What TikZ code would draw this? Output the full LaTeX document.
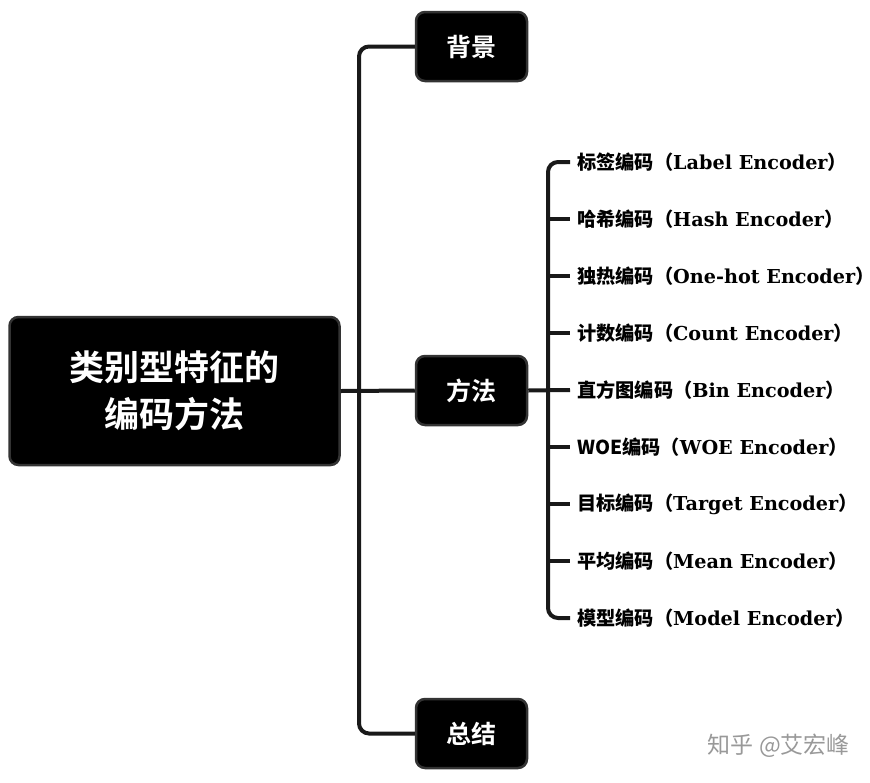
\documentclass[tikz,border=0pt]{standalone}
\usepackage{fontspec}
\setmainfont{DejaVu Serif}
\newfontfamily\cjk{Noto Sans CJK SC}
\newfontfamily\cjkb{Noto Sans CJK SC Bold}
\begin{document}
\begin{tikzpicture}[x=1pt,y=-1pt,
  box/.style={fill=black,draw=black!80,line width=2.5pt,rounded corners=9pt,text=white,font=\cjkb,inner sep=0pt},
  conn/.style={line width=4pt,draw=black!90,rounded corners=10pt},
  leaf/.style={anchor=west,inner sep=0pt,font=\fontsize{19.2}{22}\selectfont\bfseries}]
\useasboundingbox (0,0) rectangle (870,782);
\node[box,minimum width=330,minimum height=148,align=center,font=\cjkb\fontsize{35}{47}\selectfont] (root) at (174.5,391) {类别型特征的\\编码方法};
\node[box,minimum width=111,minimum height=69,font=\cjkb\fontsize{25}{30}\selectfont] (bg) at (471.5,46.5) {背景};
\node[box,minimum width=111,minimum height=69,font=\cjkb\fontsize{25}{30}\selectfont] (ff) at (471.5,390.5) {方法};
\node[box,minimum width=111,minimum height=69,font=\cjkb\fontsize{25}{30}\selectfont] (zj) at (471.5,733.5) {总结};
\coordinate (t) at (359,391);
\draw[conn] (root.east) -- (ff.west);
\draw[conn] (bg.west) -| (t) |- (zj.west);
\foreach \i/\cn/\en in {0/标签编码/Label Encoder,1/哈希编码/Hash Encoder,2/独热编码/One-hot Encoder,3/计数编码/Count Encoder,4/直方图编码/Bin Encoder,5/WOE编码/WOE Encoder,6/目标编码/Target Encoder,7/平均编码/Mean Encoder,8/模型编码/Model Encoder}{
  \node[leaf] (l\i) at (577,162+57*\i) {{\cjkb \cn（}\en{\cjkb）}};
  \coordinate (e\i) at (570,162+57*\i);
}
\coordinate (s) at (548,390.5);
\draw[conn] (ff.east) -- (e4);
\draw[conn] (e0) -| (s) |- (e8);
\foreach \i in {1,2,3,5,6,7}{
  \draw[conn,rounded corners=0pt] (548,162+57*\i) -- (e\i);
}
\node[anchor=east,inner sep=0pt,text=black!40,font=\cjk\fontsize{23}{26}\selectfont] (wm) at (850,746) {知乎 @艾宏峰};
\end{tikzpicture}
\end{document}
